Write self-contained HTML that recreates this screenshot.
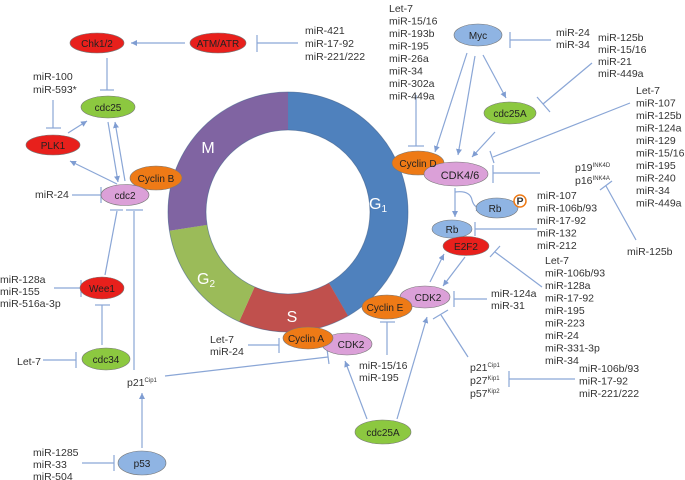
<!DOCTYPE html>
<html><head><meta charset="utf-8"><style>
html,body{margin:0;padding:0;background:#fff;}
svg{display:block;}
text{font-family:"Liberation Sans",Arial,sans-serif;font-size:10.5px;fill:#333;}
.n{font-size:10px;text-anchor:middle;fill:#222;}
.w{fill:#fff;font-size:16px;text-anchor:middle;}
.l{stroke:#8aa6d6;stroke-width:1.2;fill:none;}
sup{font-size:6px}
</style></head><body>
<svg width="685" height="480" viewBox="0 0 685 480" xmlns="http://www.w3.org/2000/svg">
<defs>
<marker id="a" markerWidth="8" markerHeight="8" refX="6" refY="3" orient="auto" markerUnits="userSpaceOnUse">
<path d="M0,0 L6,3 L0,6 z" fill="#7f9dd2"/></marker>
</defs>
<!-- ring -->
<g fill="none" stroke-width="38">
<circle cx="288" cy="212" r="101" stroke="#4f81bd" stroke-dasharray="264.4 400" transform="rotate(-90 288 212)"/>
<circle cx="288" cy="212" r="101" stroke="#c0504d" stroke-dasharray="95.2 600" transform="rotate(60 288 212)"/>
<circle cx="288" cy="212" r="101" stroke="#9bbb59" stroke-dasharray="100.5 600" transform="rotate(114 288 212)"/>
<circle cx="288" cy="212" r="101" stroke="#8064a2" stroke-dasharray="174.5 600" transform="rotate(171 288 212)"/>
</g>
<circle cx="288" cy="212" r="120" fill="none" stroke="#3a5a85" stroke-width="0.8" opacity="0.6"/>
<circle cx="288" cy="212" r="82" fill="none" stroke="#3a5a85" stroke-width="0.8" opacity="0.6"/>
<text class="w" x="208" y="153">M</text>
<text class="w" x="378" y="209">G<tspan font-size="10" dy="3">1</tspan></text>
<text class="w" x="206" y="284">G<tspan font-size="10" dy="3">2</tspan></text>
<text class="w" x="292" y="322">S</text>

<!-- connectors -->
<g class="l">
<line x1="185" y1="43" x2="131" y2="43" marker-end="url(#a)"/>
<line x1="298" y1="43" x2="257" y2="43"/><line x1="257" y1="35" x2="257" y2="52"/>
<line x1="107" y1="58" x2="107" y2="90"/><line x1="100" y1="90" x2="114" y2="90"/>
<line x1="53" y1="100" x2="53" y2="128"/><line x1="46" y1="128" x2="61" y2="128"/>
<line x1="68" y1="133" x2="87" y2="121" marker-end="url(#a)"/>
<line x1="117" y1="184" x2="70" y2="161" marker-end="url(#a)"/>
<line x1="108" y1="122" x2="118" y2="182" marker-end="url(#a)"/>
<line x1="125" y1="181" x2="115" y2="122" marker-end="url(#a)"/>
<line x1="72" y1="195" x2="101" y2="195"/><line x1="101" y1="187" x2="101" y2="203"/>
<line x1="110" y1="210" x2="123" y2="210"/><line x1="126" y1="210" x2="143" y2="210"/>
<line x1="117" y1="211" x2="105" y2="275"/>
<line x1="134" y1="211" x2="134" y2="370"/>
<line x1="54" y1="288" x2="81" y2="288"/><line x1="81" y1="280" x2="81" y2="297"/>
<line x1="102" y1="345" x2="102" y2="305"/><line x1="95" y1="305" x2="110" y2="305"/>
<line x1="43" y1="360" x2="76" y2="360"/><line x1="76" y1="352" x2="76" y2="368"/>
<line x1="142" y1="448" x2="142" y2="393" marker-end="url(#a)"/>
<line x1="82" y1="463" x2="114" y2="463"/><line x1="114" y1="455" x2="114" y2="471"/>
<line x1="165" y1="376" x2="328" y2="357"/><line x1="327" y1="349" x2="329" y2="364"/>
<line x1="248" y1="345" x2="279" y2="345"/><line x1="279" y1="338" x2="279" y2="353"/>
<line x1="367" y1="419" x2="345" y2="361" marker-end="url(#a)"/>
<line x1="397" y1="419" x2="427" y2="317" marker-end="url(#a)"/>
<line x1="387" y1="355" x2="387" y2="322"/><line x1="380" y1="322" x2="395" y2="322"/>
<line x1="487" y1="299" x2="454" y2="299"/><line x1="454" y1="291" x2="454" y2="307"/>
<line x1="468" y1="357" x2="441" y2="315"/><line x1="433" y1="319" x2="448" y2="310"/>
<line x1="575" y1="379" x2="509" y2="379"/><line x1="509" y1="371" x2="509" y2="387"/>
<line x1="430" y1="282" x2="444" y2="254" marker-end="url(#a)"/>
<line x1="465" y1="257" x2="443" y2="286" marker-end="url(#a)"/>
<line x1="542" y1="287" x2="495" y2="252"/><line x1="490" y1="257" x2="500" y2="246"/>
<line x1="537" y1="229" x2="475" y2="229"/><line x1="475" y1="222" x2="475" y2="236"/>
<line x1="455" y1="188" x2="455" y2="217" marker-end="url(#a)"/>
<path d="M455,192 Q470,190 472,200 Q474,208 482,209" marker-end="url(#a)"/>
<line x1="416" y1="95" x2="416" y2="146"/><line x1="408" y1="146" x2="424" y2="146"/>
<line x1="467" y1="53" x2="435" y2="152" marker-end="url(#a)"/>
<line x1="475" y1="56" x2="458" y2="155" marker-end="url(#a)"/>
<line x1="483" y1="55" x2="506" y2="98" marker-end="url(#a)"/>
<line x1="495" y1="132" x2="472" y2="157" marker-end="url(#a)"/>
<line x1="551" y1="40" x2="510" y2="40"/><line x1="510" y1="32" x2="510" y2="48"/>
<line x1="592" y1="63" x2="543" y2="104"/><line x1="537" y1="97" x2="550" y2="112"/>
<line x1="630" y1="103" x2="493" y2="157"/><line x1="490" y1="151" x2="494" y2="163"/>
<line x1="540" y1="173" x2="493" y2="173"/><line x1="493" y1="165" x2="493" y2="183"/>
<line x1="636" y1="240" x2="606" y2="186"/><line x1="600" y1="190" x2="612" y2="181"/>
</g>

<!-- nodes -->
<g stroke="#777" stroke-width="0.6">
<ellipse cx="97" cy="43" rx="27" ry="10" fill="#e8201c"/>
<ellipse cx="218" cy="43" rx="28" ry="10" fill="#e8201c"/>
<ellipse cx="108" cy="107" rx="27" ry="11" fill="#8cc840"/>
<ellipse cx="53" cy="145" rx="27" ry="10" fill="#e8201c"/>
<ellipse cx="156" cy="178" rx="26" ry="12" fill="#ee7a16"/>
<ellipse cx="125" cy="195" rx="24" ry="10.5" fill="#dba0d8"/>
<ellipse cx="102" cy="288" rx="22" ry="11" fill="#e8201c"/>
<ellipse cx="106" cy="359" rx="24" ry="11" fill="#8cc840"/>
<ellipse cx="142" cy="463" rx="24" ry="12" fill="#8fb4e3"/>
<ellipse cx="478" cy="35" rx="24" ry="11" fill="#8fb4e3"/>
<ellipse cx="510" cy="113" rx="26" ry="11" fill="#8cc840"/>
<ellipse cx="418" cy="163" rx="26" ry="12" fill="#ee7a16"/>
<ellipse cx="456" cy="174" rx="32" ry="12" fill="#dba0d8"/>
<ellipse cx="497" cy="208" rx="21" ry="10" fill="#8fb4e3"/>
<ellipse cx="452" cy="229" rx="20" ry="9" fill="#8fb4e3"/>
<ellipse cx="466" cy="246" rx="23" ry="9.5" fill="#e8201c"/>
<ellipse cx="425" cy="297" rx="25" ry="11" fill="#dba0d8"/>
<ellipse cx="387" cy="307" rx="25" ry="12" fill="#ee7a16"/>
<ellipse cx="347" cy="344" rx="25" ry="11" fill="#dba0d8"/>
<ellipse cx="308" cy="338" rx="25" ry="11" fill="#ee7a16"/>
<ellipse cx="383" cy="432" rx="28" ry="12" fill="#8cc840"/>
</g>
<circle cx="520" cy="201" r="6" fill="#fff" stroke="#ee7a16" stroke-width="1.5"/>
<text x="520" y="204.5" font-size="8" text-anchor="middle" font-weight="bold">P</text>
<g class="n">
<text class="n" x="97" y="47">Chk1/2</text>
<text class="n" x="218" y="47">ATM/ATR</text>
<text class="n" x="108" y="111">cdc25</text>
<text class="n" x="53" y="149">PLK1</text>
<text class="n" x="156" y="182">Cyclin B</text>
<text class="n" x="125" y="199">cdc2</text>
<text class="n" x="102" y="292">Wee1</text>
<text class="n" x="106" y="363">cdc34</text>
<text class="n" x="142" y="467">p53</text>
<text class="n" x="478" y="39">Myc</text>
<text class="n" x="510" y="117">cdc25A</text>
<text class="n" x="418" y="167">Cyclin D</text>
<text class="n" x="460" y="179" style="font-size:11px">CDK4/6</text>
<text class="n" x="495" y="212">Rb</text>
<text class="n" x="452" y="233">Rb</text>
<text class="n" x="466" y="250">E2F2</text>
<text class="n" x="428" y="301">CDK2</text>
<text class="n" x="385" y="311">Cyclin E</text>
<text class="n" x="351" y="348">CDK2</text>
<text class="n" x="306" y="342">Cyclin A</text>
<text class="n" x="383" y="436">cdc25A</text>
</g>

<!-- labels -->
<text x="305" y="34">miR-421</text><text x="305" y="47">miR-17-92</text><text x="305" y="60">miR-221/222</text>
<text x="33" y="80">miR-100</text><text x="33" y="93">miR-593*</text>
<text x="35" y="198">miR-24</text>
<text x="0" y="283">miR-128a</text><text x="0" y="295">miR-155</text><text x="0" y="307">miR-516a-3p</text>
<text x="17" y="365">Let-7</text>
<text x="127" y="386">p21<tspan font-size="6" dy="-4">Cip1</tspan></text>
<text x="33" y="456">miR-1285</text><text x="33" y="468">miR-33</text><text x="33" y="480">miR-504</text>
<text x="210" y="343">Let-7</text><text x="210" y="355">miR-24</text>
<text x="359" y="369">miR-15/16</text><text x="359" y="381">miR-195</text>
<g>
<text x="389" y="12">Let-7</text><text x="389" y="24.5">miR-15/16</text><text x="389" y="37">miR-193b</text><text x="389" y="49.5">miR-195</text><text x="389" y="62">miR-26a</text><text x="389" y="74.5">miR-34</text><text x="389" y="87">miR-302a</text><text x="389" y="99.5">miR-449a</text>
</g>
<text x="556" y="36">miR-24</text><text x="556" y="48">miR-34</text>
<text x="598" y="41">miR-125b</text><text x="598" y="53">miR-15/16</text><text x="598" y="65">miR-21</text><text x="598" y="77">miR-449a</text>
<g>
<text x="636" y="94">Let-7</text><text x="636" y="106.5">miR-107</text><text x="636" y="119">miR-125b</text><text x="636" y="131.5">miR-124a</text><text x="636" y="144">miR-129</text><text x="636" y="156.5">miR-15/16</text><text x="636" y="169">miR-195</text><text x="636" y="181.5">miR-240</text><text x="636" y="194">miR-34</text><text x="636" y="206.5">miR-449a</text>
</g>
<text x="575" y="171">p19<tspan font-size="6" dy="-4">INK4D</tspan></text>
<text x="575" y="184">p16<tspan font-size="6" dy="-4">INK4A</tspan></text>
<text x="537" y="199">miR-107</text><text x="537" y="211.5">miR-106b/93</text><text x="537" y="224">miR-17-92</text><text x="537" y="236.5">miR-132</text><text x="537" y="249">miR-212</text>
<text x="627" y="255">miR-125b</text>
<g>
<text x="545" y="264">Let-7</text><text x="545" y="276.5">miR-106b/93</text><text x="545" y="289">miR-128a</text><text x="545" y="301.5">miR-17-92</text><text x="545" y="314">miR-195</text><text x="545" y="326.5">miR-223</text><text x="545" y="339">miR-24</text><text x="545" y="351.5">miR-331-3p</text><text x="545" y="364">miR-34</text>
</g>
<text x="491" y="297">miR-124a</text><text x="491" y="309">miR-31</text>
<text x="470" y="371">p21<tspan font-size="6" dy="-4">Cip1</tspan></text>
<text x="470" y="384">p27<tspan font-size="6" dy="-4">Kip1</tspan></text>
<text x="470" y="397">p57<tspan font-size="6" dy="-4">Kip2</tspan></text>
<text x="579" y="372">miR-106b/93</text><text x="579" y="384.5">miR-17-92</text><text x="579" y="397">miR-221/222</text>
</svg>
</body></html>
